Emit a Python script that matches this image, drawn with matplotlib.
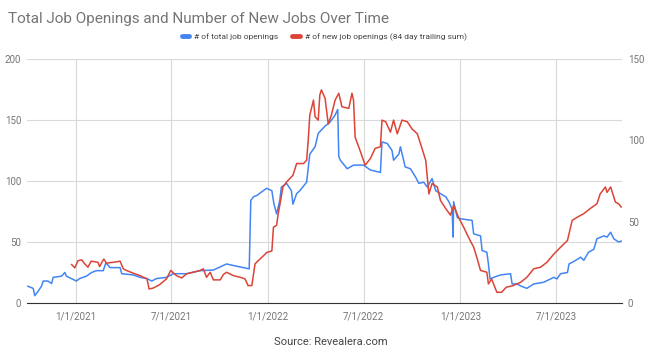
import matplotlib.pyplot as plt
import matplotlib.dates as mdates
import pandas as pd
from matplotlib.lines import Line2D
from matplotlib.ticker import FuncFormatter

plt.rcParams["font.family"] = ["Roboto", "DejaVu Sans"]

# total job openings (left axis)
total_dates = [
    "2020-10-02", "2020-10-12", "2020-10-15", "2020-10-22", "2020-10-28", "2020-10-31",
    "2020-11-09", "2020-11-16", "2020-11-19", "2020-12-05", "2020-12-11", "2020-12-14",
    "2021-01-02", "2021-01-08", "2021-01-21", "2021-01-31", "2021-02-09", "2021-02-22",
    "2021-02-27", "2021-03-07", "2021-03-26", "2021-03-29", "2021-04-20", "2021-05-03",
    "2021-05-16", "2021-05-25", "2021-06-03", "2021-06-22", "2021-07-05", "2021-07-30",
    "2021-08-25", "2021-09-19", "2021-10-14", "2021-10-27", "2021-11-26", "2021-11-29",
    "2021-12-04", "2021-12-10", "2021-12-29", "2022-01-08", "2022-01-12", "2022-01-17",
    "2022-01-23", "2022-01-26", "2022-02-05", "2022-02-14", "2022-02-17", "2022-02-24",
    "2022-03-02", "2022-03-15", "2022-03-21", "2022-03-31", "2022-04-06", "2022-04-19",
    "2022-04-28", "2022-05-08", "2022-05-13", "2022-05-15", "2022-05-18", "2022-05-31",
    "2022-06-12", "2022-07-01", "2022-07-14", "2022-08-02", "2022-08-05", "2022-08-15",
    "2022-08-24", "2022-08-27", "2022-09-06", "2022-09-09", "2022-09-18", "2022-09-28",
    "2022-10-08", "2022-10-14", "2022-10-23", "2022-10-30", "2022-11-08", "2022-11-15",
    "2022-11-24", "2022-12-04", "2022-12-10", "2022-12-16", "2022-12-18", "2022-12-19",
    "2022-12-26", "2023-01-01", "2023-01-23", "2023-01-26", "2023-02-08", "2023-02-11",
    "2023-02-20", "2023-02-23", "2023-02-26", "2023-03-05", "2023-03-18", "2023-04-06",
    "2023-04-09", "2023-04-18", "2023-04-25", "2023-05-07", "2023-05-20", "2023-06-08",
    "2023-06-27", "2023-07-03", "2023-07-10", "2023-07-23", "2023-07-26", "2023-08-04",
    "2023-08-17", "2023-08-23", "2023-09-01", "2023-09-11", "2023-09-17", "2023-09-30",
    "2023-10-06", "2023-10-13", "2023-10-19", "2023-10-28", "2023-11-02",
]
total_openings = [
    13.7, 12, 6, 10, 14, 18,
    18, 16, 21, 22, 25, 22,
    18, 20, 22, 25, 26.5, 26.5,
    33, 29, 29, 24, 23, 21,
    20, 18, 20, 21, 24, 24,
    26.5, 27, 32, 30.7, 28, 84,
    87, 88, 94, 92, 81, 73,
    84, 95, 98, 92, 81, 89.6,
    92, 99, 122, 128, 139, 145,
    148, 154, 158.6, 120, 117, 110,
    113, 113, 109, 107, 132, 130.7,
    125, 117, 122, 128, 111.5, 110,
    103, 98, 99, 95, 102, 92,
    89.6, 87, 83, 77, 54, 83,
    70, 69, 67.7, 56.7, 55, 43,
    41.6, 32, 19.7, 21, 23, 24,
    15.6, 15.6, 14, 12, 15.6, 17,
    21, 19.7, 24, 25, 32, 34,
    37.5, 35, 41.6, 44, 52.6, 55,
    54, 58, 52.6, 50, 50.7,
]

# new job openings, 84 day trailing sum (right axis)
new_dates = [
    "2020-12-24", "2020-12-30", "2021-01-05", "2021-01-12", "2021-01-18", "2021-01-24",
    "2021-01-30", "2021-02-12", "2021-02-15", "2021-02-23", "2021-02-28", "2021-03-13",
    "2021-03-26", "2021-04-01", "2021-04-07", "2021-04-20", "2021-05-03", "2021-05-16",
    "2021-05-20", "2021-05-28", "2021-06-09", "2021-06-22", "2021-06-30", "2021-07-11",
    "2021-07-21", "2021-07-30", "2021-08-12", "2021-08-25", "2021-08-31", "2021-09-06",
    "2021-09-13", "2021-09-19", "2021-10-02", "2021-10-08", "2021-10-14", "2021-10-27",
    "2021-11-09", "2021-11-18", "2021-11-24", "2021-12-01", "2021-12-07", "2021-12-13",
    "2021-12-23", "2021-12-29", "2022-01-08", "2022-01-11", "2022-01-17", "2022-01-20",
    "2022-01-23", "2022-01-29", "2022-02-05", "2022-02-17", "2022-02-24", "2022-03-09",
    "2022-03-15", "2022-03-18", "2022-03-21", "2022-03-28", "2022-03-31", "2022-04-06",
    "2022-04-09", "2022-04-12", "2022-04-19", "2022-04-25", "2022-05-01", "2022-05-08",
    "2022-05-15", "2022-05-21", "2022-06-03", "2022-06-09", "2022-06-12", "2022-06-15",
    "2022-06-24", "2022-07-04", "2022-07-14", "2022-07-23", "2022-08-02", "2022-08-05",
    "2022-08-12", "2022-08-21", "2022-08-27", "2022-09-03", "2022-09-12", "2022-09-22",
    "2022-10-01", "2022-10-11", "2022-10-17", "2022-10-27", "2022-11-02", "2022-11-08",
    "2022-11-18", "2022-11-24", "2022-12-04", "2022-12-13", "2022-12-19", "2022-12-28",
    "2023-01-07", "2023-01-16", "2023-01-26", "2023-02-01", "2023-02-08", "2023-02-20",
    "2023-02-23", "2023-03-01", "2023-03-11", "2023-03-20", "2023-03-29", "2023-04-11",
    "2023-04-25", "2023-05-07", "2023-05-20", "2023-06-02", "2023-06-14", "2023-06-27",
    "2023-07-10", "2023-07-23", "2023-08-01", "2023-08-11", "2023-08-23", "2023-09-04",
    "2023-09-17", "2023-09-23", "2023-10-03", "2023-10-06", "2023-10-13", "2023-10-19",
    "2023-10-22", "2023-10-28", "2023-11-02",
]
new_openings = [
    23.6, 21.6, 26, 26.5, 24, 22,
    25.7, 25, 22.4, 27, 24.5, 25,
    25.7, 21, 20, 18.3, 16.8, 14.8,
    8.6, 9.2, 11.3, 14.8, 20, 16.8,
    15.4, 17.9, 18.9, 20, 21, 15.8,
    18.9, 14.2, 14.2, 17.5, 18.9, 16.8,
    15.8, 14.8, 10.7, 10.7, 24, 26,
    29, 31, 32, 46.6, 47.7, 54.9,
    60, 71.3, 74.4, 78.5, 85.7, 85.7,
    87.7, 100, 115.5, 124.7, 114.5, 112.4,
    127.8, 131, 125.8, 110, 115.5, 124.7,
    128.9, 120.6, 119.6, 128.9, 124.7, 102,
    94, 84.7, 88.8, 95, 96, 112.4,
    111.4, 105, 112.4, 104, 112.4, 111.4,
    107, 104, 98, 87.7, 67, 73.4,
    71.3, 63, 58, 54, 60, 52.8,
    46.6, 40.5, 34.3, 28, 20, 18.9,
    11.7, 14.8, 6.6, 6.6, 9.7, 10.7,
    12.7, 15.8, 21, 22, 25, 30,
    34.3, 38.4, 50.8, 52.8, 54.9, 58,
    61, 67, 71.3, 68, 71.3, 65,
    62, 61, 59,
]

x_ticks = ["2021-01-01", "2021-07-01", "2022-01-01", "2022-07-01", "2023-01-01", "2023-07-01"]
left_ticks = [0, 50, 100, 150, 200]
right_ticks = [0, 50, 100, 150]

blue = "#4285F4"
red = "#DB4437"
grey_text = "#757575"

fig = plt.figure(figsize=(6.55, 3.55), dpi=100)
ax = fig.add_axes([0.041, 0.1465, 0.909, 0.6875])
ax2 = ax.twinx()

ax.plot(pd.to_datetime(total_dates), total_openings, color=blue, lw=1.1, zorder=3)
ax2.plot(pd.to_datetime(new_dates), new_openings, color=red, lw=1.1, zorder=3)

ax.set_xlim(pd.Timestamp("2020-09-30"), pd.Timestamp("2023-11-04"))
ax.set_ylim(0, 200)
ax2.set_ylim(0, 150)
ax.set_yticks(left_ticks)
ax2.set_yticks(right_ticks)
ax.set_xticks(pd.to_datetime(x_ticks))
ax.xaxis.set_major_formatter(FuncFormatter(
    lambda v, p: (lambda d: f"{d.month}/{d.day}/{d.year}")(mdates.num2date(v))))

ax.grid(True, color="#d9d9d9", lw=0.8)
ax.set_axisbelow(True)
for a in (ax, ax2):
    for s in a.spines.values():
        s.set_visible(False)
    a.tick_params(length=0, labelsize=7, colors=grey_text)
ax.spines["bottom"].set_visible(True)
ax.spines["bottom"].set_color("#333333")
ax.tick_params(axis="y", pad=4)
ax.tick_params(axis="x", pad=6)
ax2.tick_params(axis="y", pad=4)

fig.text(0.012, 0.965, "Total Job Openings and Number of New Jobs Over Time",
         fontsize=11, color=grey_text, va="top", ha="left")

handles = [Line2D([], [], color=blue, lw=3.5, solid_capstyle="round"),
           Line2D([], [], color=red, lw=3.5, solid_capstyle="round")]
fig.legend(handles, ["# of total job openings", "# of new job openings (84 day trailing sum)"],
           loc="center", bbox_to_anchor=(0.495, 0.895), ncol=2, frameon=False,
           fontsize=6, handlelength=0.9, handletextpad=0.6, columnspacing=1.6,
           labelcolor="#444444")

fig.text(0.505, 0.037, "Source: Revealera.com", fontsize=8, color="#444444",
         ha="center", va="center")

fig.savefig("out.png", dpi=100)
